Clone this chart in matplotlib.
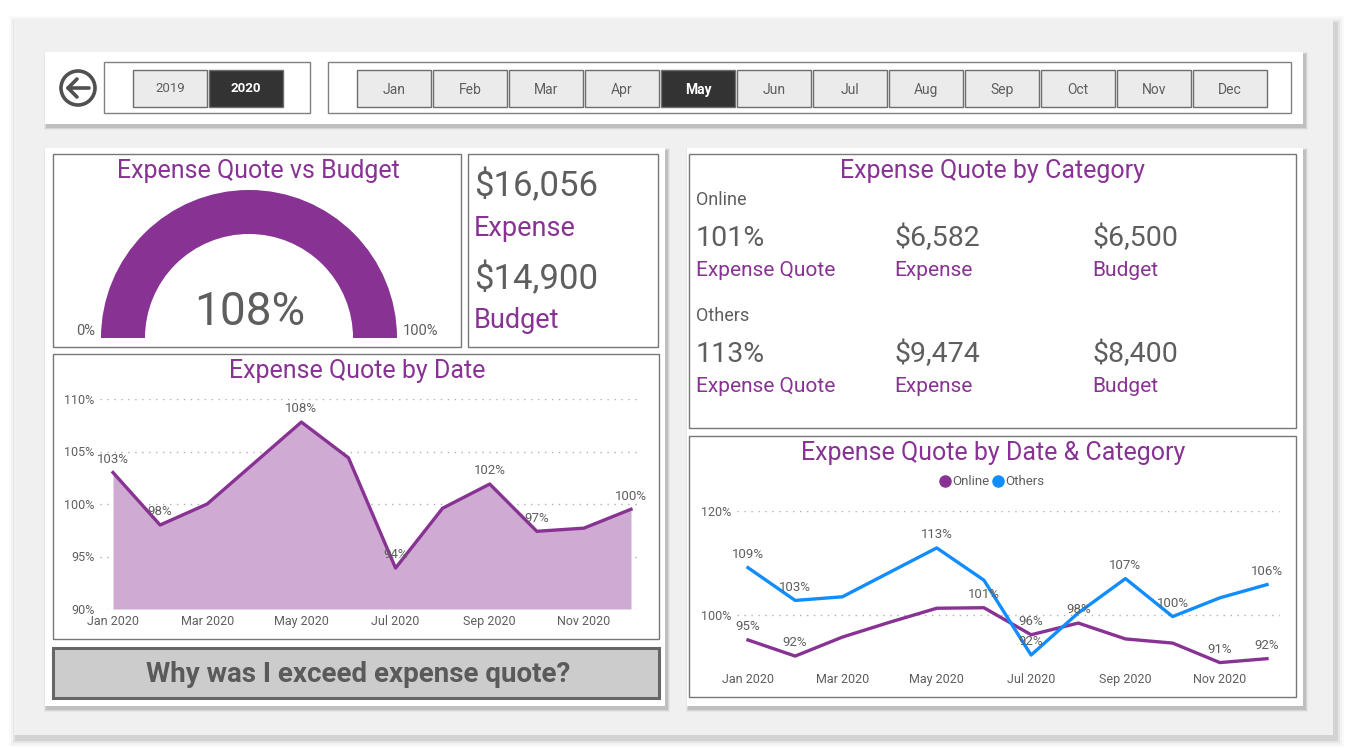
import numpy as np
import matplotlib
matplotlib.use("Agg")
import matplotlib.pyplot as plt
from matplotlib.patches import Rectangle, Wedge, Circle

W, H = 1349, 749
PURPLE = "#883393"
BLUE = "#118DFF"
FILL = "#CFABD4"
GREY = "#605E5C"

plt.rcParams["font.family"] = ["Roboto", "DejaVu Sans"]

# ---- data ----
years = ["2019", "2020"]
sel_year = "2020"
months = ["Jan", "Feb", "Mar", "Apr", "May", "Jun",
          "Jul", "Aug", "Sep", "Oct", "Nov", "Dec"]
sel_month = "May"

gauge_value = 108
total_expense = "$16,056"
total_budget = "$14,900"

quote_total = [103.0, 98.0, 100.0, 103.9, 107.8, 104.4,
               93.9, 99.6, 101.9, 97.4, 97.7, 99.5]
total_label_idx = [0, 1, 4, 6, 8, 9, 11]

online = [95.2, 92.1, 95.75, 98.6, 101.3, 101.4,
          96.2, 98.45, 95.4, 94.6, 90.85, 91.6]
online_label_idx = [0, 1, 5, 6, 7, 10, 11]
others = [109.1, 102.8, 103.5, 108.2, 112.9, 106.7,
          92.3, 100.4, 107.0, 99.7, 103.3, 105.85]
others_label_idx = [0, 1, 4, 6, 8, 9, 11]

categories = ["Online", "Others"]
cat_quote = ["101%", "113%"]
cat_expense = ["$6,582", "$9,474"]
cat_budget = ["$6,500", "$8,400"]

date_ticks = [0, 2, 4, 6, 8, 10]
date_ticklabels = ["Jan 2020", "Mar 2020", "May 2020",
                   "Jul 2020", "Sep 2020", "Nov 2020"]


fig = plt.figure(figsize=(W / 100, H / 100), dpi=100)
fig.patch.set_facecolor("white")
bg = fig.add_axes([0, 0, 1, 1])
bg.set_xlim(0, W)
bg.set_ylim(H, 0)
bg.axis("off")


def box(x0, y0, x1, y1, fc="white", ec="none", lw=1.0, z=1):
    bg.add_patch(Rectangle((x0, y0), x1 - x0, y1 - y0, fc=fc, ec=ec, lw=lw, zorder=z))


def card(x0, y0, x1, y1):
    for i, a in enumerate([0.10, 0.07, 0.04]):
        d = i + 1
        bg.add_patch(Rectangle((x0 - d + 2, y0 - d + 3), x1 - x0 + 2 * d, y1 - y0 + 2 * d,
                               fc="black", ec="none", alpha=a, zorder=1))
    box(x0, y0, x1, y1, fc="white", z=2)


def px_axes(x0, y0, x1, y1):
    return fig.add_axes([x0 / W, 1 - y1 / H, (x1 - x0) / W, (y1 - y0) / H])


def title(xc, yc, s):
    bg.text(xc, yc, s, ha="center", va="center", fontsize=18,
            color=PURPLE, zorder=5)


# outer panel with soft shadow
for i, a in enumerate([0.08, 0.05, 0.03, 0.02]):
    d = 2 * (i + 1)
    bg.add_patch(Rectangle((14 - d + 3, 20 - d + 4), 1319 + 2 * d, 715 + 2 * d,
                           fc="black", ec="none", alpha=a, zorder=0))
box(14, 20, 1333, 735, fc="#F0F0F0", z=0.5)

# ---- top slicer card ----
card(45, 52, 1303, 124)
bg.add_patch(Circle((78, 88), 17, fc="none", ec="#505050", lw=2.6, zorder=3))
bg.plot([68, 89], [88, 88], color="#505050", lw=2.6, zorder=3, solid_capstyle="round")
bg.plot([77, 68, 77], [79, 88, 97], color="#505050", lw=2.6, zorder=3,
        solid_capstyle="round", solid_joinstyle="round")

box(104, 62, 310, 113, ec="#808080", z=3)
for i, y in enumerate(years):
    x0 = 133 + i * 76
    on = y == sel_year
    box(x0, 70, x0 + 74, 107, fc="#333333" if on else "#EBEBEB", ec="#6E6E6E", z=4)
    bg.text(x0 + 37, 89, y, ha="center", va="center", fontsize=9.5,
            color="white" if on else GREY, fontweight="bold" if on else "normal", zorder=5)

box(328, 62, 1291, 113, ec="#808080", z=3)
for i, m in enumerate(months):
    x0 = 357 + i * 76
    on = m == sel_month
    box(x0, 70, x0 + 74, 107, fc="#333333" if on else "#EBEBEB", ec="#6E6E6E", z=4)
    bg.text(x0 + 37, 90, m, ha="center", va="center", fontsize=10,
            color="white" if on else GREY, fontweight="bold" if on else "normal", zorder=5)

# ---- left card ----
card(45, 148, 665, 706)
box(53, 154, 461, 347, ec="#777777", z=3)
box(468, 154, 658, 347, ec="#777777", z=3)
box(53, 354, 659, 639, ec="#777777", z=3)
box(53, 648, 659, 698, fc="#CCCCCC", ec="#666666", lw=2.2, z=3)
bg.text(358, 674, "Why was I exceed expense quote?", ha="center", va="center",
        fontsize=20, fontweight="bold", color="#5A5A5A", zorder=5)

title(258, 171, "Expense Quote vs Budget")

gax = px_axes(101, 190, 397, 338)
gax.set_xlim(-1, 1)
gax.set_ylim(0, 1)
gax.axis("off")
gax.add_patch(Wedge((0, 0), 1, 0, 180, width=0.297, fc="#E6E6E6", ec="none"))
frac = min(gauge_value / 100, 1.0)
gax.add_patch(Wedge((0, 0), 1, 180 - 180 * frac, 180, width=0.297, fc=PURPLE, ec="none"))
bg.text(250, 312, f"{gauge_value}%", ha="center", va="center", fontsize=33,
        color=GREY, zorder=5)
bg.text(95, 331, "0%", ha="right", va="center", fontsize=10.5, color=GREY, zorder=5)
bg.text(403, 331, "100%", ha="left", va="center", fontsize=10.5, color=GREY, zorder=5)

bg.text(474, 186, total_expense, ha="left", va="center", fontsize=25,
        color=GREY, zorder=5)
bg.text(474, 229, "Expense", ha="left", va="center", fontsize=19.5, color=PURPLE, zorder=5)
bg.text(474, 279, total_budget, ha="left", va="center", fontsize=25,
        color=GREY, zorder=5)
bg.text(474, 321, "Budget", ha="left", va="center", fontsize=19.5, color=PURPLE, zorder=5)

# ---- line chart: expense quote by date ----
title(357, 371, "Expense Quote by Date")
x = np.arange(len(months))


def style_axes(ax, yticks):
    ax.set_facecolor("none")
    for s in ax.spines.values():
        s.set_visible(False)
    ax.set_yticks(yticks)
    ax.set_yticklabels([f"{v}%" for v in yticks])
    ax.set_xticks(date_ticks)
    ax.set_xticklabels(date_ticklabels)
    ax.tick_params(length=0, labelsize=9, colors=GREY, pad=4)
    ax.grid(axis="y", linestyle=(0, (1, 4)), color="#B0B0B0", lw=1)
    ax.set_axisbelow(True)


sx = 47.1
ax1 = px_axes(100, 399, 642, 609)
ax1.fill_between(x, quote_total, 90, color=FILL, lw=0)
ax1.plot(x, quote_total, color=PURPLE, lw=2.4, solid_joinstyle="round")
for i in total_label_idx:
    ax1.annotate(f"{quote_total[i]:.0f}%", (x[i], quote_total[i]), xytext=(0, 9.5),
                 textcoords="offset points", ha="center", va="center", fontsize=9.5, color=GREY)
ax1.set_xlim(-13 / sx, 11 + 11 / sx)
ax1.set_ylim(90, 110)
style_axes(ax1, [90, 95, 100, 105, 110])

# ---- right card ----
card(687, 148, 1303, 706)
box(689, 154, 1296, 428, ec="#777777", z=3)
box(689, 436, 1296, 697, ec="#777777", z=3)

title(993, 171, "Expense Quote by Category")
for r, cat in enumerate(categories):
    y0 = 200 + r * 116
    bg.text(696, y0, cat, ha="left", va="center", fontsize=13, color=GREY, zorder=5)
    for c, (val, lab) in enumerate(zip([cat_quote[r], cat_expense[r], cat_budget[r]],
                                       ["Expense Quote", "Expense", "Budget"])):
        xx = 696 + c * 198
        bg.text(xx, y0 + 38, val, ha="left", va="center", fontsize=20.5,
                color=GREY, zorder=5)
        bg.text(xx, y0 + 71, lab, ha="left", va="center", fontsize=15,
                color=PURPLE, zorder=5)

title(993, 453, "Expense Quote by Date & Category")

sx2 = 47.2
ax2 = px_axes(737, 511, 1280, 667)
ax2.plot(x, online, color=PURPLE, lw=2.4, solid_joinstyle="round", label="Online")
ax2.plot(x, others, color=BLUE, lw=2.4, solid_joinstyle="round", label="Others")
for series, idx in [(online, online_label_idx), (others, others_label_idx)]:
    for i in idx:
        ax2.annotate(f"{series[i]:.0f}%", (x[i], series[i]), xytext=(0, 9.5),
                     textcoords="offset points", ha="center", va="center",
                     fontsize=9.5, color=GREY)
ax2.set_xlim(-11 / sx2, 11 + 13 / sx2)
ax2.set_ylim(90, 120)
style_axes(ax2, [100, 120])
leg = ax2.legend(loc="lower center", bbox_to_anchor=(0.47, 1.07), ncol=2, frameon=False,
                 fontsize=9.5, handlelength=0.7, handletextpad=0.2, columnspacing=0.3,
                 labelcolor=GREY)
for h, c in zip(leg.legend_handles, [PURPLE, BLUE]):
    h.set_linestyle("none")
    h.set_marker("o")
    h.set_markersize(8)
    h.set_color(c)

fig.savefig("out.png", dpi=100, facecolor=fig.get_facecolor())
